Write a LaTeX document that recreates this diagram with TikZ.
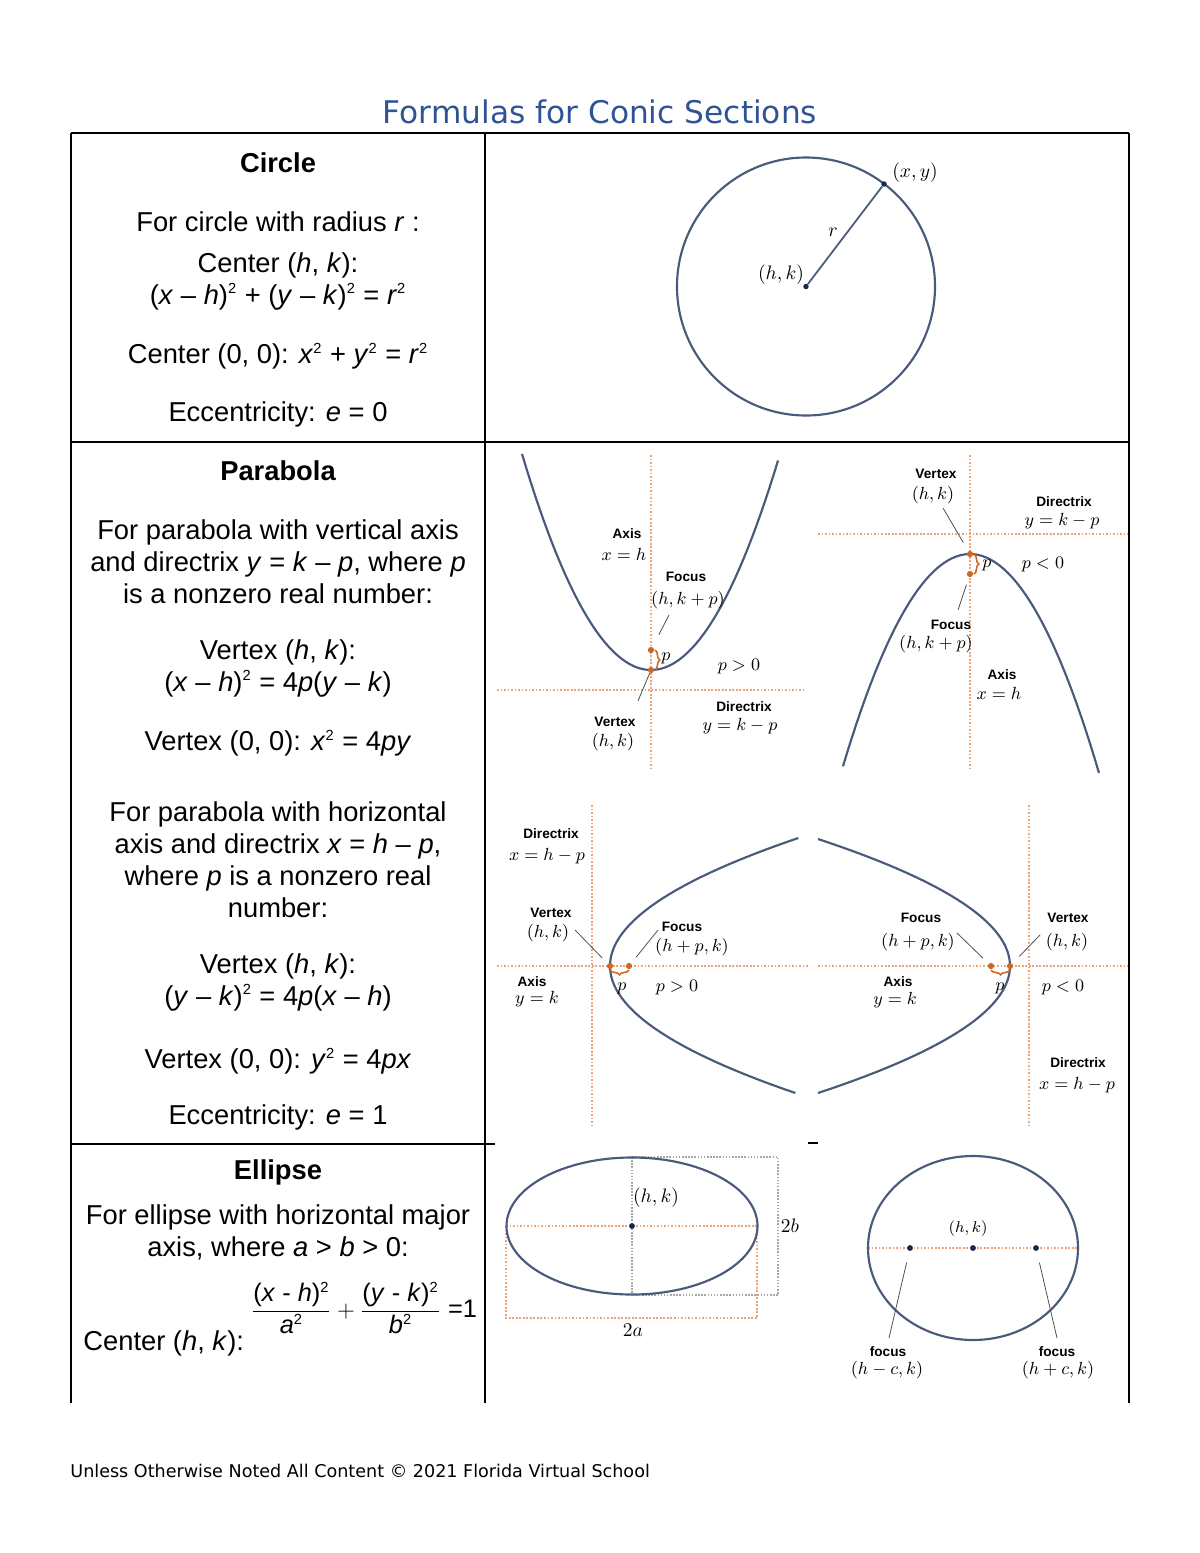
\documentclass[tikz,border=0pt]{standalone}
\usepackage{amsmath}
\usepackage[no-math]{fontspec}
\setmainfont{Liberation Sans}
\newfontfamily\dejavu{DejaVu Sans}
\usetikzlibrary{decorations.pathreplacing}
\definecolor{conic}{RGB}{74,90,122}
\definecolor{guideor}{RGB}{236,164,118}
\definecolor{ptor}{RGB}{206,104,38}
\definecolor{navy}{RGB}{24,38,78}
\definecolor{titleblue}{RGB}{47,84,150}
\newcommand{\sqd}{\textsuperscript{\fontsize{7.5}{8}\selectfont 2}}
\tikzset{
  cell/.style={font=\fontsize{14}{16.4}\selectfont, align=center, inner sep=0pt},
  head/.style={font=\fontsize{14}{16.4}\selectfont\bfseries, inner sep=0pt},
  tag/.style={font=\fontsize{7}{8}\selectfont\bfseries, inner sep=0pt},
  lab/.style={font=\fontsize{8.7}{10}\selectfont, inner sep=0pt},
  biglab/.style={font=\fontsize{10}{12}\selectfont, inner sep=0pt},
  curve/.style={draw=conic, line width=1.1pt},
  guide/.style={draw=guideor, line width=0.7pt, dash pattern=on 0.9pt off 0.9pt},
  grayguide/.style={draw=gray!70, line width=0.6pt, dash pattern=on 0.8pt off 0.8pt},
  leader/.style={draw=gray!60!black, line width=0.4pt},
  pt/.style={circle, fill=#1, inner sep=0pt, minimum size=3.2pt},
  pt/.default={ptor},
  pbrace/.style={draw=ptor, line width=0.8pt, decorate, decoration={brace, amplitude=2.5pt}},
  rule/.style={draw=black, line width=0.6pt}
}

\begin{document}
\begin{tikzpicture}[x=0.018cm, y=-0.018cm]
  \useasboundingbox (0,0) rectangle (1200,1553);
  \node[font=\dejavu\fontsize{16}{19}\selectfont, text=titleblue] (title) at (600,112) {Formulas for Conic Sections};
  \node[font=\dejavu\fontsize{9}{11}\selectfont, anchor=west, inner sep=0pt] (footer) at (70,1471) {Unless Otherwise Noted All Content © 2021 Florida Virtual School};

  % table rules
  \draw[rule] (71,133) -- (1129,133);
  \draw[rule] (71,442) -- (1129,442);
  \draw[rule] (71,1144) -- (495,1144);
  \draw[rule] (808,1143) -- (818,1143);
  \draw[rule] (71,133) -- (71,1403);
  \draw[rule] (485,133) -- (485,1403);
  \draw[rule] (1129,133) -- (1129,1403);

  % circle text
  \node[head] (circhead) at (278,163) {Circle};
  \node[cell] (circ1) at (278,222) {For circle with radius \textit{r} :};
  \node[cell] (circ2) at (278,281) {Center (\textit{h}, \textit{k}):\\(\textit{x} – \textit{h})\sqd{} + (\textit{y} – \textit{k})\sqd{} = \textit{r}\sqd};
  \node[cell] (circ3) at (278,356) {Center (0, 0): \textit{x}\sqd{} + \textit{y}\sqd{} = \textit{r}\sqd};
  \node[cell] (circ4) at (278,414) {Eccentricity: \textit{e} = 0};

  % parabola text
  \node[head] (parhead) at (278,471) {Parabola};
  \node[cell] (par1) at (278,562) {For parabola with vertical axis\\and directrix \textit{y} = \textit{k} – \textit{p}, where \textit{p}\\is a nonzero real number:};
  \node[cell] (par2) at (278,668) {Vertex (\textit{h}, \textit{k}):\\(\textit{x} – \textit{h})\sqd{} = 4\textit{p}(\textit{y} – \textit{k})};
  \node[cell] (par3) at (278,743) {Vertex (0, 0): \textit{x}\sqd{} = 4\textit{py}};
  \node[cell] (par4) at (278,860) {For parabola with horizontal\\axis and directrix \textit{x} = \textit{h} – \textit{p},\\where \textit{p} is a nonzero real\\number:};
  \node[cell] (par5) at (278,982) {Vertex (\textit{h}, \textit{k}):\\(\textit{y} – \textit{k})\sqd{} = 4\textit{p}(\textit{x} – \textit{h})};
  \node[cell] (par6) at (278,1061) {Vertex (0, 0): \textit{y}\sqd{} = 4\textit{px}};
  \node[cell] (par7) at (278,1117) {Eccentricity: \textit{e} = 1};

  % ellipse text
  \node[head] (ellhead) at (278,1172) {Ellipse};
  \node[cell] (ell1) at (278,1232) {For ellipse with horizontal major\\axis, where \textit{a} > \textit{b} > 0:};
  \node[cell, font=\fontsize{13}{15}\selectfont] (ell2) at (364,1308) {$\dfrac{\text{(\textit{x} - \textit{h})\sqd}}{\text{\textit{a}\sqd}}+\dfrac{\text{(\textit{y} - \textit{k})\sqd}}{\text{\textit{b}\sqd}}\text{ =1}$};
  \node[cell, anchor=west] (ell3) at (83,1343) {Center (\textit{h}, \textit{k}):};

  % circle
  \coordinate (cc) at (806,286.5);
  \draw[curve] (cc) circle[radius=129];
  \node[pt=navy, minimum size=2.8pt] (cpt) at (884,184) {};
  \node[pt=navy, minimum size=2.8pt] (ccd) at (cc) {};
  \draw[curve, line width=0.9pt] (ccd) -- (cpt);
  \node[biglab] (cxy) at (915,173) {$(x,y)$};
  \node[biglab] (cr) at (833,232) {$r$};
  \node[biglab] (chk) at (781,275) {$(h,k)$};

  % parabola opening up
  \draw[guide] (651,455) -- (651,770);
  \draw[guide] (497,690) -- (803,690);
  \draw[curve] plot[domain=-129:127, samples=60] ({651+\x},{670-\x*(\x/77)});
  \node[pt] (f1) at (651,650) {};
  \node[pt] (v1) at (651,670) {};
  \draw[pbrace] (655,650) -- (655,670);
  \node[tag] (a1) at (627,534) {Axis};
  \node[lab] (a1e) at (624,554) {$x=h$};
  \node[tag] (f1t) at (686,577) {Focus};
  \node[lab] (f1e) at (688,600) {$(h,k+p)$};
  \node[lab] (p1) at (666,658) {$p$};
  \node[lab] (s1) at (739,667) {$p>0$};
  \node[tag] (d1) at (744,707) {Directrix};
  \node[lab] (d1e) at (740,726) {$y=k-p$};
  \node[tag] (v1t) at (615,722) {Vertex};
  \node[lab] (v1e) at (613,742) {$(h,k)$};
  \draw[leader, shorten >=7pt] (669,615) -- (f1);
  \draw[leader, shorten >=4pt] (v1) -- (635,708);

  % parabola opening down
  \draw[guide] (970,455) -- (970,770);
  \draw[guide] (818,534) -- (1128,534);
  \draw[curve] plot[domain=-127:129, samples=60] ({970+\x},{554+\x*(\x/76)});
  \node[pt] (v2) at (970,554) {};
  \node[pt] (f2) at (970,574) {};
  \draw[pbrace] (974,554) -- (974,574);
  \node[tag] (v2t) at (936,474) {Vertex};
  \node[lab] (v2e) at (933,495) {$(h,k)$};
  \node[tag] (d2) at (1064,502) {Directrix};
  \node[lab] (d2e) at (1062,521) {$y=k-p$};
  \node[lab] (p2) at (987,565) {$p$};
  \node[lab] (s2) at (1043,565) {$p<0$};
  \node[tag] (f2t) at (951,625) {Focus};
  \node[lab] (f2e) at (936,644) {$(h,k+p)$};
  \node[tag] (a2) at (1002,675) {Axis};
  \node[lab] (a2e) at (999,693) {$x=h$};
  \draw[leader, shorten >=5pt] (943,508) -- (v2);
  \draw[leader, shorten <=4pt] (f2) -- (958,610);

  % parabola opening right
  \draw[guide] (592,805) -- (592,1125);
  \draw[guide] (497,966) -- (808,966);
  \draw[curve] plot[domain=-128:127, samples=60] ({610+\x*(\x/87)},{966+\x});
  \node[pt] (v3) at (610,966) {};
  \node[pt] (f3) at (629,966) {};
  \draw[pbrace] (629,970) -- (610,970);
  \node[tag] (d3) at (551,834) {Directrix};
  \node[lab] (d3e) at (547,856) {$x=h-p$};
  \node[tag] (v3t) at (551,913) {Vertex};
  \node[lab] (v3e) at (548,933) {$(h,k)$};
  \node[tag] (f3t) at (682,927) {Focus};
  \node[lab] (f3e) at (692,947) {$(h+p,k)$};
  \node[tag] (a3) at (532,982) {Axis};
  \node[lab] (a3e) at (537,999) {$y=k$};
  \node[lab] (p3) at (622,988) {$p$};
  \node[lab] (s3) at (677,988) {$p>0$};
  \draw[leader, shorten >=4pt] (575,930) -- (v3);
  \draw[leader, shorten >=4pt] (658,930) -- (f3);

  % parabola opening left
  \draw[guide] (1029,805) -- (1029,1125);
  \draw[guide] (818,966) -- (1128,966);
  \draw[curve] plot[domain=-127:127, samples=60] ({1010-\x*(\x/84)},{966+\x});
  \node[pt] (v4) at (1010,966) {};
  \node[pt] (f4) at (991,966) {};
  \draw[pbrace] (1010,970) -- (991,970);
  \node[tag] (f4t) at (921,918) {Focus};
  \node[lab] (f4e) at (918,942) {$(h+p,k)$};
  \node[tag] (v4t) at (1068,918) {Vertex};
  \node[lab] (v4e) at (1067,942) {$(h,k)$};
  \node[tag] (a4) at (898,982) {Axis};
  \node[lab] (a4e) at (895,1000) {$y=k$};
  \node[lab] (p4) at (1000,988) {$p$};
  \node[lab] (s4) at (1063,988) {$p<0$};
  \node[tag] (d4) at (1078,1063) {Directrix};
  \node[lab] (d4e) at (1077,1085) {$x=h-p$};
  \draw[leader, shorten >=4pt] (957,933) -- (f4);
  \draw[leader, shorten >=5pt] (1040,935) -- (v4);

  % horizontal ellipse
  \draw[grayguide] (632,1157) -- (778,1157) -- (778,1295) -- (632,1295);
  \draw[grayguide] (632,1157) -- (632,1295);
  \draw[guide] (506,1226) -- (506,1318) -- (757,1318) -- (757,1226);
  \draw[guide] (506,1226) -- (757,1226);
  \draw[curve] (632,1226) ellipse[x radius=125.5, y radius=68.5];
  \node[pt=navy, minimum size=3pt] (e1c) at (632,1226) {};
  \node[biglab] (e1hk) at (656,1198) {$(h,k)$};
  \node[biglab] (e1b) at (790,1226) {$2b$};
  \node[biglab] (e1a) at (633,1330) {$2a$};

  % ellipse with foci
  \draw[guide] (868,1248) -- (1078,1248);
  \draw[curve] (973,1248) ellipse[x radius=105, y radius=92];
  \node[pt=navy, minimum size=3pt] (e2c) at (973,1248) {};
  \node[pt=navy, minimum size=3pt] (e2l) at (910,1248) {};
  \node[pt=navy, minimum size=3pt] (e2r) at (1036,1248) {};
  \node[lab, font=\fontsize{8.2}{10}\selectfont] (e2hk) at (968,1229) {$(h,k)$};
  \node[tag] (e2lt) at (888,1352) {focus};
  \node[lab] (e2le) at (887,1370) {$(h-c,k)$};
  \node[tag] (e2rt) at (1057,1352) {focus};
  \node[lab] (e2re) at (1058,1370) {$(h+c,k)$};
  \draw[leader, shorten <=6pt] (e2l) -- (889,1338);
  \draw[leader, shorten <=6pt] (e2r) -- (1057,1338);
\end{tikzpicture}
\end{document}
